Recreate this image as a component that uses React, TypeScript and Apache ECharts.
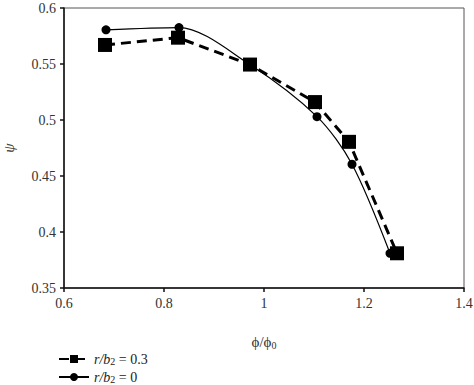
import React, { useEffect, useRef } from "react";
import * as echarts from "echarts";

const xSquare = [0.682, 0.828, 0.972, 1.102, 1.17, 1.266];
const ySquare = [0.567, 0.5735, 0.5495, 0.516, 0.4805, 0.381];
const xCircle = [0.684, 0.83, 0.97, 1.106, 1.176, 1.252];
const yCircle = [0.5805, 0.5825, 0.55, 0.503, 0.4605, 0.381];
const seriesNames = ["r/b2 = 0.3", "r/b2 = 0"];

const FONT = "'Liberation Serif', 'DejaVu Serif', 'Times New Roman', serif";

export default function App() {
  const ref = useRef<HTMLDivElement>(null);
  useEffect(() => {
    if (!ref.current) return;
    const chart = echarts.init(ref.current, null, { renderer: "svg" });
    chart.setOption({
      animation: false,
      backgroundColor: "#fff",
      textStyle: { fontFamily: FONT },
      grid: {
        left: 64,
        right: 10,
        top: 8,
        bottom: 97,
        outerBoundsMode: "none",
        containLabel: false,
        show: true,
        borderColor: "#555",
        borderWidth: 1,
      },
      legend: {
        orient: "vertical",
        left: 58,
        top: 352,
        height: 33,
        padding: 0,
        itemWidth: 30,
        itemHeight: 10,
        itemGap: 4,
        data: seriesNames,
        formatter: (name: string) =>
          name === seriesNames[0]
            ? "{i|r/b}{s|2}{n| = 0.3}"
            : "{i|r/b}{s|2}{n| = 0}",
        textStyle: {
          fontFamily: FONT,
          rich: {
            i: { fontFamily: FONT, fontStyle: "italic", fontSize: 14, color: "#222", lineHeight: 14 },
            s: { fontFamily: FONT, fontSize: 10, color: "#222", lineHeight: 9, verticalAlign: "bottom" },
            n: { fontFamily: FONT, fontSize: 14, color: "#222", lineHeight: 14 },
          },
        },
      },
      xAxis: {
        type: "value",
        min: 0.6,
        max: 1.4,
        interval: 0.2,
        name: "{a|ϕ/ϕ}{s|0}",
        nameLocation: "middle",
        nameGap: 46,
        nameTextStyle: {
          rich: {
            a: { fontFamily: FONT, fontSize: 15, color: "#333", lineHeight: 16 },
            s: { fontFamily: FONT, fontSize: 10, color: "#333", lineHeight: 9, verticalAlign: "bottom" },
          },
        },
        axisLine: { lineStyle: { color: "#111", width: 1.5 } },
        axisTick: { show: true, length: 4, lineStyle: { color: "#111", width: 1.5 } },
        axisLabel: { fontFamily: FONT, fontSize: 14, color: "#333", margin: 8 },
        splitLine: { show: false },
      },
      yAxis: {
        type: "value",
        min: 0.35,
        max: 0.6,
        interval: 0.05,
        name: "ψ",
        nameLocation: "middle",
        nameGap: 48,
        nameRotate: 90,
        nameTextStyle: { fontFamily: FONT, fontSize: 15, color: "#333", fontStyle: "italic" },
        axisLine: { lineStyle: { color: "#111", width: 1.5 } },
        axisTick: { show: true, length: 4, lineStyle: { color: "#111", width: 1.5 } },
        axisLabel: { fontFamily: FONT, fontSize: 14, color: "#333", margin: 8 },
        splitLine: { show: false },
      },
      series: [
        {
          name: seriesNames[1],
          type: "line",
          data: xCircle.map((x, i) => [x, yCircle[i]]),
          symbol: "circle",
          symbolSize: 9,
          smooth: 0.3,
          lineStyle: { color: "#000", width: 1.2 },
          itemStyle: { color: "#000" },
          z: 2,
        },
        {
          name: seriesNames[0],
          type: "line",
          data: xSquare.map((x, i) => [x, ySquare[i]]),
          symbol: "rect",
          symbolSize: 14,
          lineStyle: { color: "#000", width: 3, type: [10, 6] },
          itemStyle: { color: "#000" },
          z: 3,
        },
      ],
    });
    return () => chart.dispose();
  }, []);
  return <div ref={ref} style={{ width: 474, height: 385, position: "absolute", left: 0, top: 0 }} />;
}
